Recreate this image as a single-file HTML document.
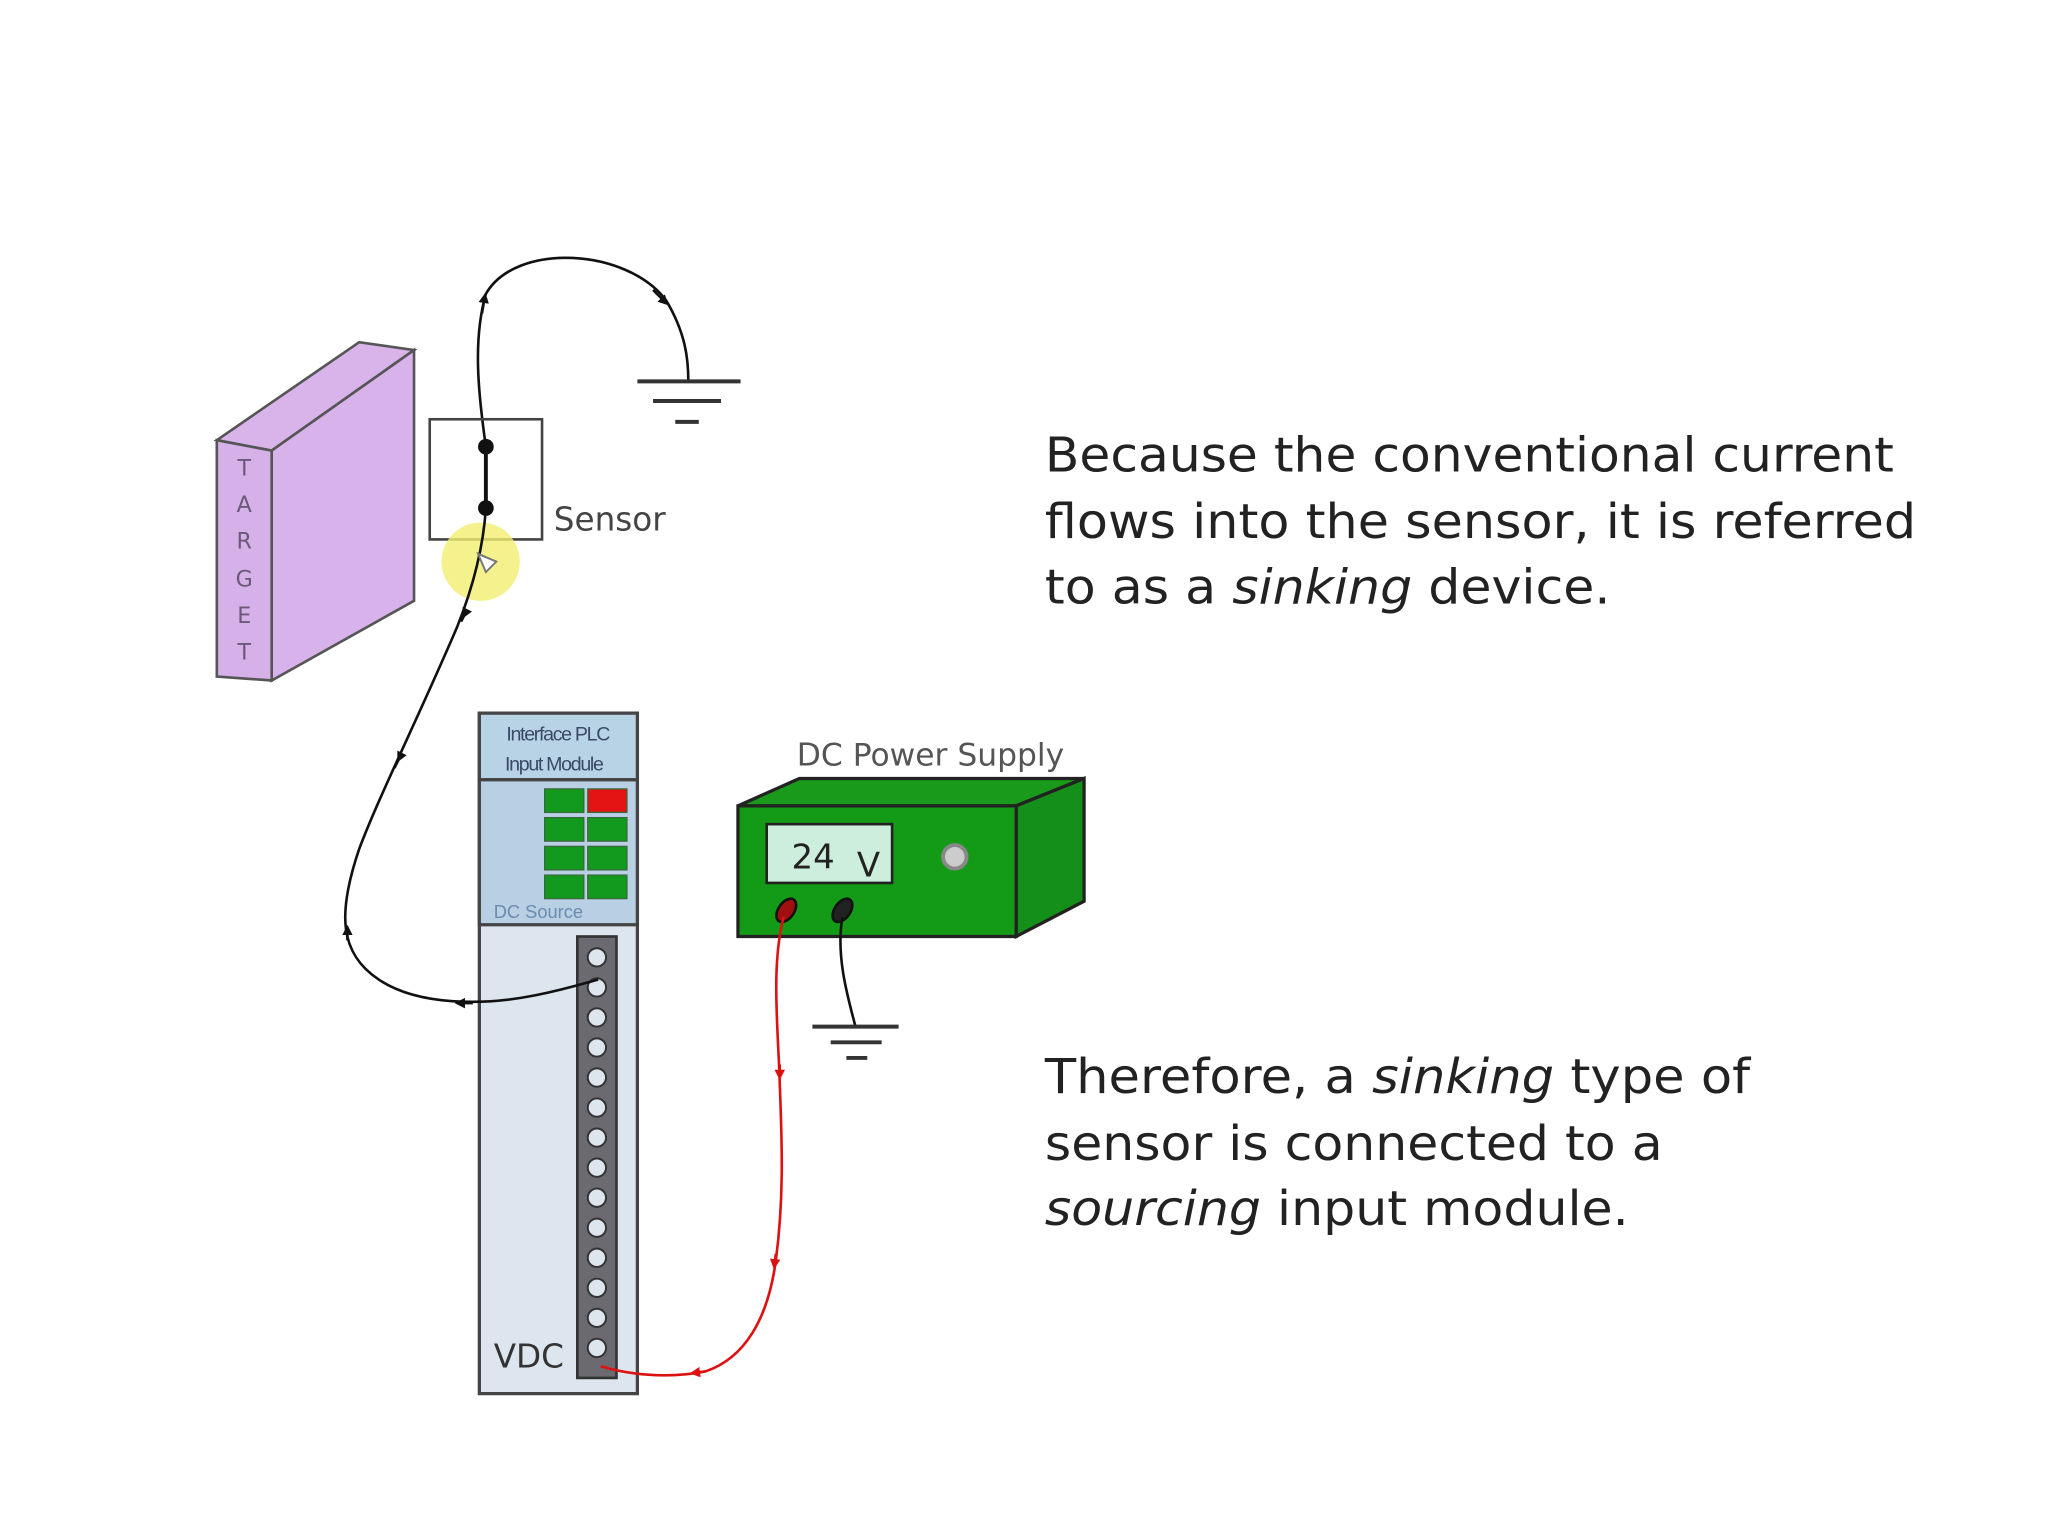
<!DOCTYPE html>
<html><head><meta charset="utf-8"><style>html,body{margin:0;padding:0;background:#fff}svg{display:block}</style></head>
<body>
<svg width="2048" height="1536" viewBox="0 0 1568 1176" xmlns="http://www.w3.org/2000/svg" font-family="'DejaVu Sans','Liberation Sans',sans-serif">
<defs>
<marker id="a" viewBox="0 0 10 10" refX="5" refY="5" markerWidth="4" markerHeight="4" orient="auto"><path d="M0,0L10,5L0,10z" fill="#111"/></marker>
<marker id="r" viewBox="0 0 10 10" refX="5" refY="5" markerWidth="4" markerHeight="4" orient="auto"><path d="M0,0L10,5L0,10z" fill="#d11"/></marker>
</defs>
<rect width="1568" height="1176" fill="#fff"/>
<!-- Target -->
<polygon points="166,337 275,262 317,268 208,345" fill="#d9b4ea" stroke="#555" stroke-width="2"/>
<polygon points="208,345 317,268 317,460 208,521" fill="#d8b2ea" stroke="#555" stroke-width="2"/>
<polygon points="166,337 208,345 208,521 166,518" fill="#d6b0e8" stroke="#555" stroke-width="2"/>
<g fill="#6a5a78" font-size="17" text-anchor="middle"><text x="187" y="364">T</text><text x="187" y="392">A</text><text x="187" y="420">R</text><text x="187" y="449">G</text><text x="187" y="477">E</text><text x="187" y="505">T</text></g>
<!-- top wire and ground -->
<path d="M372,342 C366,300 362,260 372,225 C395,185 480,190 510,230 C525,255 527,275 527,292" fill="none" stroke="#111" stroke-width="2"/>
<path d="M369,240 L371,228" stroke="#111" stroke-width="2" marker-end="url(#a)"/>
<path d="M500,222 L509,231" stroke="#111" stroke-width="2" marker-end="url(#a)"/>
<g stroke="#333" stroke-width="3"><line x1="488" y1="292" x2="567" y2="292"/><line x1="500" y1="307" x2="552" y2="307"/><line x1="517" y1="323" x2="535" y2="323"/></g>
<!-- sensor -->
<rect x="329" y="321" width="86" height="92" fill="none" stroke="#444" stroke-width="2"/>
<line x1="372" y1="342" x2="372" y2="389" stroke="#111" stroke-width="3"/>
<circle cx="372" cy="342" r="6" fill="#111"/><circle cx="372" cy="389" r="6" fill="#111"/>
<text x="424" y="406" font-size="25" fill="#444">Sensor</text>
<circle cx="368" cy="430" r="30" fill="#f2ee70" opacity="0.8"/>
<!-- PLC module -->
<rect x="367" y="546" width="121" height="521" fill="#dde6ee" stroke="#444" stroke-width="2.5"/>
<rect x="367" y="546" width="121" height="51" fill="#b8d2e6" stroke="#444" stroke-width="2.5"/>
<rect x="367" y="597" width="121" height="111" fill="#b8cfe4" stroke="#444" stroke-width="2.5"/>
<g font-family="'Liberation Sans Narrow','Liberation Sans',sans-serif" font-size="15" fill="#3a4a66" text-anchor="middle" letter-spacing="-1"><text x="427" y="567">Interface PLC</text><text x="424" y="590">Input Module</text></g>
<g fill="#129a1e" stroke="#3a6a3a" stroke-width="1">
<rect x="417" y="604" width="30" height="18"/><rect x="450" y="604" width="30" height="18" fill="#e41414"/>
<rect x="417" y="626" width="30" height="18"/><rect x="450" y="626" width="30" height="18"/>
<rect x="417" y="648" width="30" height="18"/><rect x="450" y="648" width="30" height="18"/>
<rect x="417" y="670" width="30" height="18"/><rect x="450" y="670" width="30" height="18"/>
</g>
<text x="378" y="703" font-size="14" fill="#6a8cb0" font-family="'Liberation Sans',sans-serif">DC Source</text>
<rect x="442" y="717" width="30" height="338" fill="#6a6a70" stroke="#333" stroke-width="2"/>
<g fill="#dde6ee" stroke="#333" stroke-width="1.5">
<circle cx="457" cy="733" r="7"/><circle cx="457" cy="756" r="7"/><circle cx="457" cy="779" r="7"/><circle cx="457" cy="802" r="7"/><circle cx="457" cy="825" r="7"/><circle cx="457" cy="848" r="7"/><circle cx="457" cy="871" r="7"/><circle cx="457" cy="894" r="7"/><circle cx="457" cy="917" r="7"/><circle cx="457" cy="940" r="7"/><circle cx="457" cy="963" r="7"/><circle cx="457" cy="986" r="7"/><circle cx="457" cy="1009" r="7"/><circle cx="457" cy="1032" r="7"/>
</g>
<text x="378" y="1047" font-size="25" fill="#333">VDC</text>
<!-- wire sensor to PLC -->
<path d="M372,389 C370,420 362,450 350,480 C320,550 290,610 275,650 C258,700 260,730 290,750 C320,770 370,770 410,762 C435,757 450,752 458,750" fill="none" stroke="#111" stroke-width="2"/>
<path d="M306,580 L302,588" stroke="#111" stroke-width="2" marker-start="url(#a)" />
<path d="M356,470 L353,476" stroke="#111" stroke-width="2" marker-start="url(#a)"/>
<path d="M266,720 L266,712" stroke="#111" stroke-width="2" marker-end="url(#a)"/>
<path d="M362,768 L352,768" stroke="#111" stroke-width="2" marker-end="url(#a)"/>
<path d="M372,438 L366,424 L380,430 Z" fill="#fff" stroke="#777" stroke-width="1.5"/>
<!-- Power supply -->
<text x="610" y="586" font-size="24" fill="#555">DC Power Supply</text>
<polygon points="565,617 612,596 830,596 778,617" fill="#1a9a1a" stroke="#222" stroke-width="2.5"/>
<polygon points="778,617 830,596 830,690 778,717" fill="#14901a" stroke="#222" stroke-width="2.5"/>
<rect x="565" y="617" width="213" height="100" fill="#139b18" stroke="#222" stroke-width="2.5"/>
<rect x="587" y="631" width="96" height="45" fill="#cdeedd" stroke="#222" stroke-width="2"/>
<text x="606" y="665" font-size="26" fill="#222">24</text><text x="656" y="671" font-size="26" fill="#222">V</text>
<circle cx="731" cy="656" r="9" fill="#ccc" stroke="#888" stroke-width="3"/>
<ellipse cx="602" cy="697" rx="6" ry="10" transform="rotate(35 602 697)" fill="#a01010" stroke="#111" stroke-width="2"/>
<ellipse cx="645" cy="697" rx="6" ry="10" transform="rotate(35 645 697)" fill="#222" stroke="#111" stroke-width="2"/>
<!-- ground wire -->
<path d="M645,702 C640,730 648,760 655,786" fill="none" stroke="#111" stroke-width="2"/>
<g stroke="#333" stroke-width="3"><line x1="622" y1="786" x2="688" y2="786"/><line x1="636" y1="798" x2="675" y2="798"/><line x1="648" y1="810" x2="664" y2="810"/></g>
<!-- red wire -->
<path d="M600,702 C590,740 596,790 597,830 C599,880 600,920 594,965 C588,1010 570,1040 540,1050 C510,1056 480,1052 460,1046" fill="none" stroke="#d11" stroke-width="2"/>
<path d="M597,815 L597,823" stroke="#d11" stroke-width="2" marker-end="url(#r)"/>
<path d="M594,960 L593,968" stroke="#d11" stroke-width="2" marker-end="url(#r)"/>
<path d="M540,1050 L532,1051" stroke="#d11" stroke-width="2" marker-end="url(#r)"/>
<!-- text -->
<g font-size="37" fill="#222" lengthAdjust="spacingAndGlyphs">
<text x="800" y="361" textLength="650" lengthAdjust="spacingAndGlyphs">Because the conventional current</text>
<text x="800" y="412" textLength="667" lengthAdjust="spacingAndGlyphs">flows into the sensor, it is referred</text>
<text x="800" y="462" textLength="433" lengthAdjust="spacingAndGlyphs">to as a <tspan font-style="italic">sinking</tspan> device.</text>
<text x="800" y="837" textLength="540" lengthAdjust="spacingAndGlyphs">Therefore, a <tspan font-style="italic">sinking</tspan> type of</text>
<text x="800" y="888" textLength="473" lengthAdjust="spacingAndGlyphs">sensor is connected to a</text>
<text x="800" y="938" textLength="447" lengthAdjust="spacingAndGlyphs"><tspan font-style="italic">sourcing</tspan> input module.</text>
</g>
</svg>
</body></html>
